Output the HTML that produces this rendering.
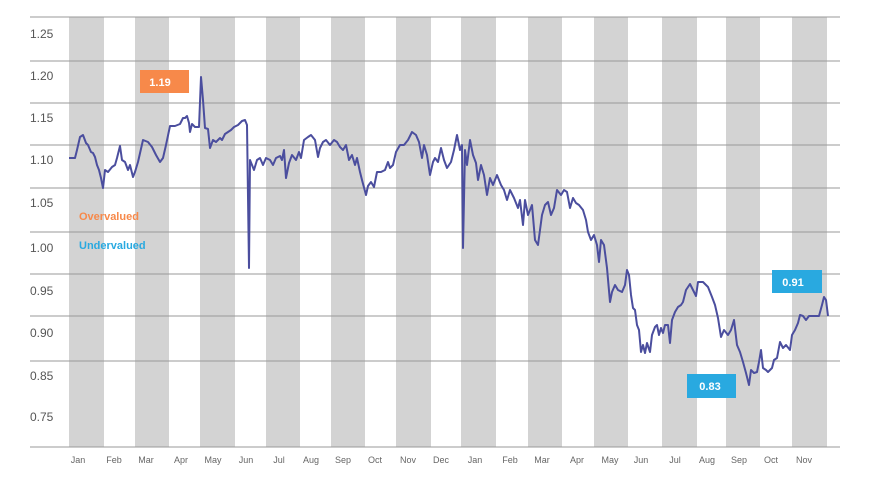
<!DOCTYPE html>
<html><head><meta charset="utf-8"><style>
body{margin:0;background:#fff;}
svg{display:block;font-family:"Liberation Sans",sans-serif;}
</style></head><body>
<svg width="870" height="489" viewBox="0 0 870 489" xmlns="http://www.w3.org/2000/svg">
<g fill="#d3d3d3">
<rect x="69" y="17" width="35" height="430"/>
<rect x="135" y="17" width="34" height="430"/>
<rect x="200" y="17" width="35" height="430"/>
<rect x="266" y="17" width="34" height="430"/>
<rect x="331" y="17" width="34" height="430"/>
<rect x="396" y="17" width="35" height="430"/>
<rect x="461" y="17" width="35" height="430"/>
<rect x="528" y="17" width="34" height="430"/>
<rect x="594" y="17" width="34" height="430"/>
<rect x="662" y="17" width="35" height="430"/>
<rect x="726" y="17" width="34" height="430"/>
<rect x="792" y="17" width="35" height="430"/>
</g>
<g stroke="#9a9a9a" stroke-width="1">
<line x1="30" x2="840" y1="17" y2="17"/>
<line x1="30" x2="840" y1="61" y2="61"/>
<line x1="30" x2="840" y1="103" y2="103"/>
<line x1="30" x2="840" y1="145" y2="145"/>
<line x1="30" x2="840" y1="188" y2="188"/>
<line x1="30" x2="840" y1="232" y2="232"/>
<line x1="30" x2="840" y1="274" y2="274"/>
<line x1="30" x2="840" y1="316" y2="316"/>
<line x1="30" x2="840" y1="361" y2="361"/>
<line x1="30" x2="840" y1="447" y2="447"/>
</g>
<g fill="#555" font-size="12">
<text x="30" y="38">1.25</text>
<text x="30" y="80">1.20</text>
<text x="30" y="122">1.15</text>
<text x="30" y="164">1.10</text>
<text x="30" y="207">1.05</text>
<text x="30" y="252">1.00</text>
<text x="30" y="295">0.95</text>
<text x="30" y="337">0.90</text>
<text x="30" y="380">0.85</text>
<text x="30" y="421">0.75</text>
</g>
<g fill="#666" font-size="9" text-anchor="middle">
<text x="78" y="463">Jan</text><text x="114" y="463">Feb</text><text x="146" y="463">Mar</text><text x="181" y="463">Apr</text><text x="213" y="463">May</text><text x="246" y="463">Jun</text><text x="279" y="463">Jul</text><text x="311" y="463">Aug</text><text x="343" y="463">Sep</text><text x="375" y="463">Oct</text><text x="408" y="463">Nov</text><text x="441" y="463">Dec</text><text x="475" y="463">Jan</text><text x="510" y="463">Feb</text><text x="542" y="463">Mar</text><text x="577" y="463">Apr</text><text x="610" y="463">May</text><text x="641" y="463">Jun</text><text x="675" y="463">Jul</text><text x="707" y="463">Aug</text><text x="739" y="463">Sep</text><text x="771" y="463">Oct</text><text x="804" y="463">Nov</text>
</g>
<text x="79" y="220" fill="#f7894a" font-size="11" font-weight="bold">Overvalued</text>
<text x="79" y="249" fill="#29a9e0" font-size="11" font-weight="bold">Undervalued</text>
<polyline fill="none" stroke="#4b4e9e" stroke-width="2" stroke-linejoin="round" points="69,158 75,158 77,150 80,137 83,135 86,143 88,145 91,152 93,153 95,157 97,165 99,170 101,178 103,188 105,170 108,172 112,167 115,165 117,158 120,146 122,160 125,162 128,170 130,165 133,177 135,172 138,162 143,140 148,142 152,147 156,155 160,162 163,158 166,145 170,126 175,126 180,124 183,118 185,118 187,116 189,123 190,132 192,124 195,127 197,127 199,127 201,77 203,100 205,128 208,129 210,148 213,140 216,142 218,140 220,138 222,140 225,134 228,132 231,130 234,127 238,125 242,121 245,120 247,125 249,268 250,160 252,165 254,170 257,160 260,158 263,165 266,158 270,160 273,165 276,158 280,156 282,160 284,150 286,178 289,163 292,155 296,160 299,152 301,158 304,140 308,137 311,135 315,140 318,157 320,148 323,142 326,140 330,145 334,140 337,142 340,147 343,150 346,145 349,160 352,155 355,165 357,158 360,172 362,180 366,195 368,186 371,182 374,187 377,172 381,172 385,170 388,162 390,168 393,165 396,152 400,145 404,145 408,140 412,132 416,135 419,142 422,158 424,145 427,155 430,175 433,162 435,158 438,162 441,148 444,160 447,168 451,162 454,150 457,135 460,150 462,145 463,248 465,150 467,165 470,140 473,155 476,163 478,180 481,165 484,175 487,195 490,178 493,185 497,175 501,185 504,190 507,200 510,190 514,198 518,208 520,200 523,225 525,200 528,215 532,205 535,240 538,245 542,215 545,205 548,202 551,215 554,208 557,190 561,195 564,190 567,192 570,208 573,198 576,203 579,205 583,210 586,220 588,232 591,240 594,235 597,245 599,262 601,240 604,245 607,268 610,302 612,292 615,285 618,290 622,292 625,285 627,270 629,275 631,295 633,308 635,310 637,325 639,330 641,352 643,345 645,353 647,343 650,352 652,335 655,327 657,325 659,335 661,328 663,333 665,325 668,325 670,343 672,320 675,312 678,307 681,305 683,302 686,290 690,284 693,290 696,296 698,282 703,282 708,287 712,297 715,305 718,318 721,337 724,330 728,335 731,330 734,320 737,345 740,352 743,362 746,373 749,385 751,370 754,373 757,372 759,362 761,350 763,368 766,370 768,372 772,368 774,360 777,358 780,342 783,348 786,345 790,350 792,335 795,330 798,323 800,315 803,316 806,320 809,316 814,316 819,316 822,305 824,297 826,300 828,316"/>
<rect x="140" y="70" width="49" height="23" fill="#f7894a"/>
<text x="160" y="86" fill="#fff" font-size="11" font-weight="bold" text-anchor="middle">1.19</text>
<rect x="772" y="270" width="50" height="23" fill="#29a9e0"/>
<text x="793" y="286" fill="#fff" font-size="11" font-weight="bold" text-anchor="middle">0.91</text>
<rect x="687" y="374" width="49" height="24" fill="#29a9e0"/>
<text x="710" y="390" fill="#fff" font-size="11" font-weight="bold" text-anchor="middle">0.83</text>
</svg>
</body></html>
